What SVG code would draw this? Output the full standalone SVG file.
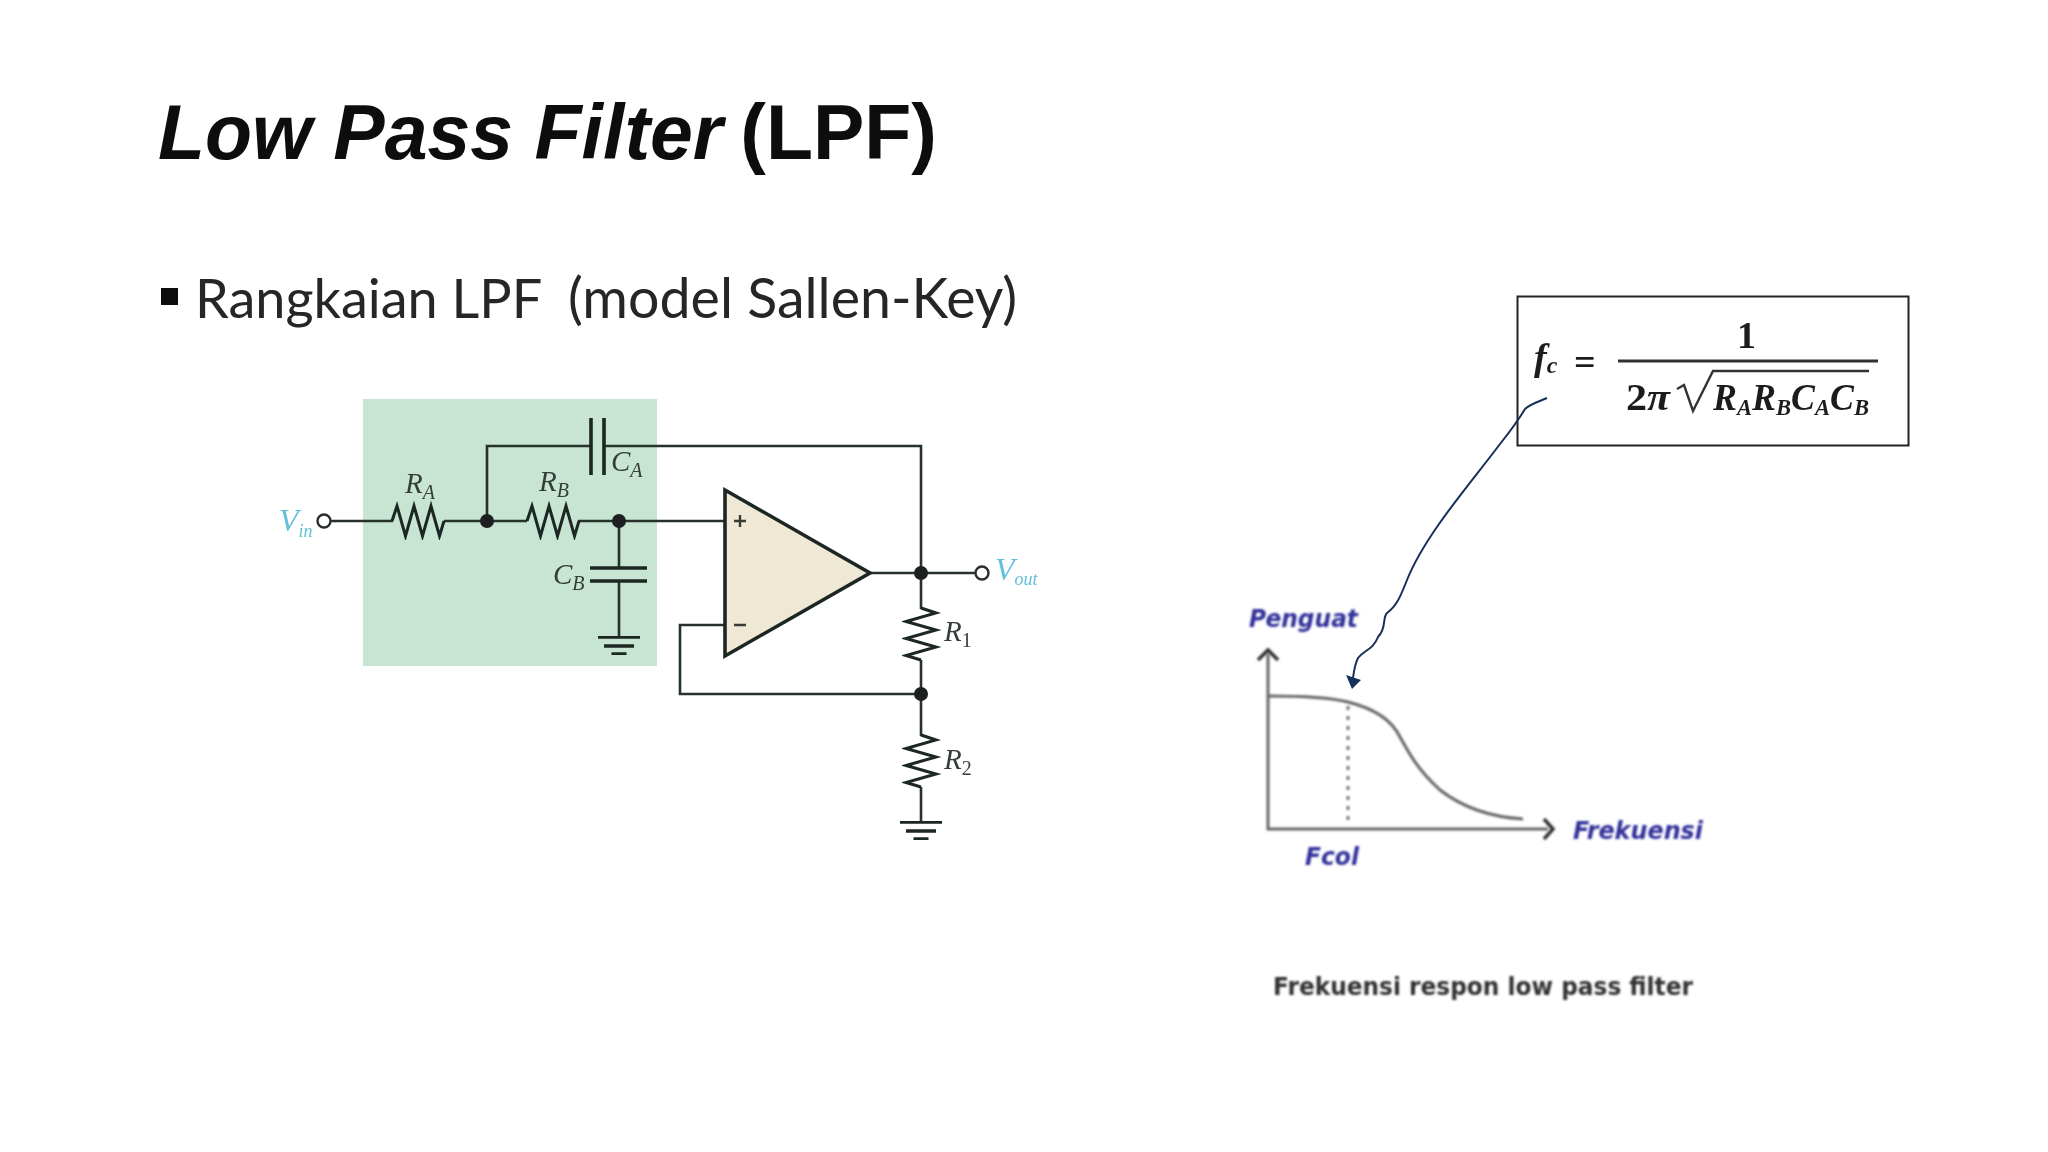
<svg xmlns="http://www.w3.org/2000/svg" width="2048" height="1152" viewBox="0 0 2048 1152">
<style>
.w{fill:none;stroke:#25302c;stroke-width:2.6}
.p{fill:none;stroke:#1b2623;stroke-width:3.6}
.d{fill:#1d1f20}
.o{fill:#fff;stroke:#2a2f2d;stroke-width:2.4}
.l{font-family:"Liberation Serif",serif;font-style:italic;font-size:29px;fill:#343d3a}
.s{font-size:20px}
.n{font-style:normal}
.v{fill:#62c0dc;font-size:32px}
.vs{font-size:18px}
.f{font-family:"Liberation Serif",serif;font-weight:bold;fill:#1f1f1f;font-size:38px}
.fs{font-size:24px}
.c{font-family:"DejaVu Sans",sans-serif;font-weight:bold;font-style:italic;font-size:25px;fill:#30309a}
.a{fill:none;stroke:#666;stroke-width:3}
</style>
<defs>
<path id="z" d="M0 0L5 -15L13.500 15L22 -15L30.500 15L39 -15L47.500 15L52 0" fill="none" stroke="#1b2623" stroke-width="3"/>
<g id="gnd"><path d="M-21 0H21M-15 9H15M-7.500 17H7.500" fill="none" stroke="#1b2623" stroke-width="3.600"/></g>
<filter id="b1" x="-5%" y="-5%" width="110%" height="110%"><feGaussianBlur stdDeviation="0.600"/></filter>
<filter id="b2" x="-10%" y="-30%" width="120%" height="160%"><feGaussianBlur stdDeviation="1.100"/></filter>
</defs>
<rect width="2048" height="1152" fill="#fff"/>
<g id="title"><text x="158" y="159" font-family="Liberation Sans,sans-serif" font-weight="bold" font-size="77" fill="#0d0d0d"><tspan font-style="italic">Low Pass Filter</tspan><tspan dx="-4"> (LPF)</tspan></text></g>
<g id="bullet"><rect x="161" y="288" width="17" height="17" fill="#0d0d0d"/><text y="318" font-family="Lato,sans-serif" fill="#262626"><tspan x="195" font-size="54">Rangkaian LPF</tspan><tspan x="568" font-size="55.500">(model Sallen-Key)</tspan></text></g>
<rect id="highlight" x="363" y="399" width="294" height="267" fill="#c8e4d2"/>
<g id="connectors" filter="url(#b1)">
<path class="w" d="M331 521H393M444 521H527M578 521H724"/>
<path class="w" d="M487 521V446H591M604 446H921V573"/>
<path class="w" d="M619 521V568M619 581V637"/>
<path class="w" d="M869 573H975"/>
<path class="w" d="M921 573V609M921 660V736M921 787V821"/>
<path class="w" d="M921 694H680V625H724"/>
</g>
<g id="vin" filter="url(#b1)"><circle class="o" cx="324" cy="521" r="6.500"/><text class="l v" x="279" y="531">V<tspan class="vs" dy="6">in</tspan></text></g>
<g id="ra" filter="url(#b1)"><use href="#z" x="392" y="521"/><text class="l" x="405" y="493">R<tspan class="s" dy="6">A</tspan></text></g>
<g id="rb" filter="url(#b1)"><use href="#z" x="527" y="521"/><text class="l" x="539" y="491">R<tspan class="s" dy="6">B</tspan></text></g>
<g id="ca" filter="url(#b1)"><path class="p" d="M591 418V475M604 418V475"/><text class="l" x="611" y="471">C<tspan class="s" dy="6">A</tspan></text></g>
<g id="cb" filter="url(#b1)"><path class="p" d="M590 568H647M590 581H647"/><text class="l" x="553" y="584">C<tspan class="s" dy="6">B</tspan></text></g>
<g id="gnd1" filter="url(#b1)"><use href="#gnd" x="619" y="637"/></g>
<g id="n1"><circle class="d" cx="487" cy="521" r="7"/></g>
<g id="n2"><circle class="d" cx="619" cy="521" r="7"/></g>
<g id="opamp" filter="url(#b1)"><path d="M725 490L870 573L725 656Z" fill="#efe8d5" stroke="#1b2623" stroke-width="3.600"/><path d="M734 521H746M740 515V527M734 625H746" fill="none" stroke="#3a3a34" stroke-width="2.400"/></g>
<g id="n3"><circle class="d" cx="921" cy="573" r="7"/></g>
<g id="n4"><circle class="d" cx="921" cy="694" r="7"/></g>
<g id="vout" filter="url(#b1)"><circle class="o" cx="982" cy="573" r="6.500"/><text class="l v" x="995" y="580">V<tspan class="vs" dy="5">out</tspan></text></g>
<g id="r1" filter="url(#b1)"><use href="#z" transform="translate(921 608) rotate(90)"/><text class="l" x="944" y="641">R<tspan class="s n" dy="6">1</tspan></text></g>
<g id="r2" filter="url(#b1)"><use href="#z" transform="translate(921 735) rotate(90)"/><text class="l" x="944" y="769">R<tspan class="s n" dy="6">2</tspan></text></g>
<g id="gnd2" filter="url(#b1)"><use href="#gnd" x="921" y="822"/></g>
<g id="formula">
<rect x="1517.500" y="296.500" width="391" height="149" fill="#fff" stroke="#222" stroke-width="2"/>
<g filter="url(#b1)">
<text class="f" x="1534" y="370" font-style="italic" font-size="42">f<tspan class="fs" dy="3">c</tspan></text>
<text class="f" x="1574" y="375" font-size="44">=</text>
<text class="f" x="1737" y="348">1</text>
<path d="M1618 361H1878" stroke="#333" stroke-width="3" fill="none"/>
<text class="f" x="1626" y="410" textLength="44" lengthAdjust="spacingAndGlyphs">2<tspan font-style="italic">π</tspan></text>
<path d="M1677 389L1684 385L1693 411L1713 371H1869" stroke="#333" stroke-width="2.400" fill="none"/>
<text class="f" x="1713" y="410" font-style="italic" textLength="156" lengthAdjust="spacingAndGlyphs">R<tspan class="fs" dy="5">A</tspan><tspan dy="-5">R</tspan><tspan class="fs" dy="5">B</tspan><tspan dy="-5">C</tspan><tspan class="fs" dy="5">A</tspan><tspan dy="-5">C</tspan><tspan class="fs" dy="5">B</tspan></text>
</g>
</g>
<g id="chart">
<g filter="url(#b2)">
<path class="a" d="M1268 654V829H1548"/>
<path d="M1258 660L1268 650L1278 660M1544 819L1553 829L1544 839" fill="none" stroke="#333" stroke-width="3.500"/>
<path d="M1268 696C1300 696 1328 697 1348 702C1368 707 1390 716 1400 737C1410 755 1418 770 1440 790C1462 807 1490 817 1523 819" fill="none" stroke="#666" stroke-width="3"/>
<path d="M1348 706V825" fill="none" stroke="#777" stroke-width="3" stroke-dasharray="4 6"/>
<text class="c" x="1249" y="627" textLength="109" lengthAdjust="spacingAndGlyphs">Penguat</text>
<text class="c" x="1573" y="839" textLength="130" lengthAdjust="spacingAndGlyphs">Frekuensi</text>
<text class="c" x="1305" y="865" textLength="54" lengthAdjust="spacingAndGlyphs">Fcol</text>
<text x="1273" y="995" font-family="DejaVu Sans,sans-serif" font-weight="bold" font-size="25" fill="#333" textLength="420" lengthAdjust="spacingAndGlyphs">Frekuensi respon low pass filter</text>
</g>
</g>
<g id="annotation"><path d="M1547 398C1538 402 1530 404 1525 409C1516 424 1508 434 1500 444C1470 484 1425 535 1407 580C1401 595 1397 606 1387 613C1382 618 1387 628 1378 637C1373 650 1364 650 1358 658C1355 664 1354 670 1353 678" fill="none" stroke="#17305a" stroke-width="2"/><path d="M1346 675L1361 680L1352 689Z" fill="#17305a"/></g>
</svg>
